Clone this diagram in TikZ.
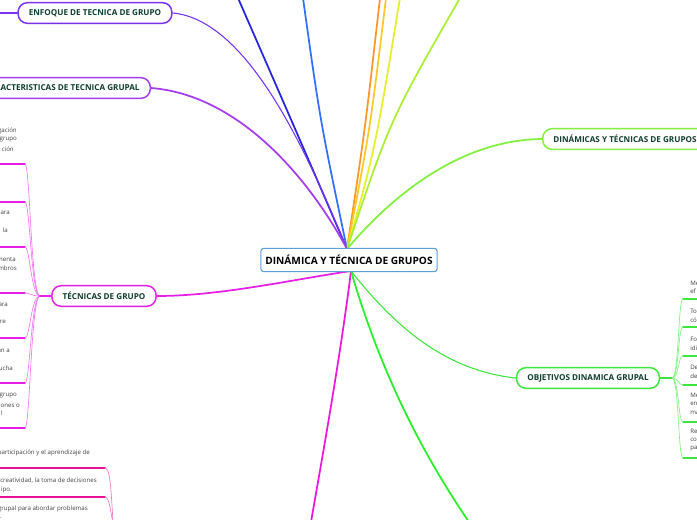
\documentclass[tikz,border=0pt]{standalone}
\usepackage{fontspec}
\setmainfont{Open Sans}
\definecolor{cdb}{RGB}{35,35,225}
\definecolor{cbl}{RGB}{50,110,255}
\definecolor{cor}{RGB}{255,150,40}
\definecolor{cgo}{RGB}{255,200,40}
\definecolor{cye}{RGB}{230,240,40}
\definecolor{cyg}{RGB}{170,240,50}
\definecolor{cenf}{RGB}{120,50,240}
\definecolor{ccar}{RGB}{165,60,240}
\definecolor{ctec}{RGB}{230,30,230}
\definecolor{ctecl}{RGB}{240,120,240}
\definecolor{cdyt}{RGB}{130,240,60}
\definecolor{cobj}{RGB}{60,230,60}
\definecolor{cobjl}{RGB}{130,240,130}
\definecolor{cmag}{RGB}{240,20,220}
\definecolor{cgr}{RGB}{40,240,40}
\definecolor{cpk}{RGB}{232,16,150}
\definecolor{cpkl}{RGB}{240,120,200}
\definecolor{cbox}{RGB}{90,160,220}
\definecolor{ctxt}{RGB}{15,60,45}
\begin{document}
\begin{tikzpicture}[x=0.75pt,y=-0.75pt,line cap=round,
  topic/.style={draw=#1,line width=1.1pt,rounded corners=7pt,fill=white,inner xsep=8pt,minimum height=15.5pt,font=\bfseries\fontsize{6.1}{6.5}\selectfont,text=ctxt},
  conn/.style={draw=#1,line width=1.3pt},
  thin/.style={draw=#1,line width=0.8pt},
  frag/.style={font=\fontsize{4.6}{5}\selectfont,text=black!75,inner sep=0pt}]
\useasboundingbox (0,0) rectangle (697,520);
\begin{scope}
\clip (0,0) rectangle (697,520);
\coordinate (ct) at (347,249);
\coordinate (cb) at (351,271);
\coordinate (t1) at (238,-2);
\coordinate (t2) at (303,-2);
\coordinate (t3) at (380,-2);
\coordinate (t4) at (386,-2);
\coordinate (t5) at (400,-2);
\coordinate (t6) at (460,-2);
\draw[conn=cdb] (ct) .. controls (300,140) .. (t1);
\draw[conn=cbl] (ct) .. controls (320,120) .. (t2);
\draw[conn=cor] (ct) .. controls (365,130) .. (t3);
\draw[conn=cgo] (ct) .. controls (370,130) .. (t4);
\draw[conn=cye] (ct) .. controls (375,150) .. (t5);
\draw[conn=cyg] (ct) .. controls (390,120) .. (t6);
\node[topic=cenf] (enf) at (95,13) {ENFOQUE DE TECNICA DE GRUPO};
\node[topic=ccar,anchor=east] (car) at (151,88) {CARACTERISTICAS DE TECNICA GRUPAL};
\node[topic=ctec] (tec) at (104,296) {TÉCNICAS DE GRUPO};
\node[topic=cdyt,anchor=west] (dyt) at (542,139) {DINÁMICAS Y TÉCNICAS DE GRUPOS};
\node[topic=cobj] (obj) at (588,378) {OBJETIVOS DINAMICA GRUPAL};
\coordinate (enfl) at (-2,13);
\draw[thin=cenf] (enfl) -- (enf.west);
\draw[thin=cenf] (enf.east) .. controls (250,20) and (310,160) .. (ct);
\draw[conn=ccar] (car.east) .. controls (240,95) and (310,180) .. (ct);
\draw[conn=ctec] (tec.east) .. controls (220,296) and (290,280) .. (cb);
\draw[conn=cdyt] (dyt.west) .. controls (450,140) and (380,210) .. (ct);
\draw[thin=cobj] (obj.west) .. controls (440,370) and (390,320) .. (cb);
\coordinate (b1) at (311,522);
\coordinate (b2) at (469,522);
\draw[conn=cmag] (cb) .. controls (340,360) and (320,470) .. (b1);
\draw[conn=cgr] (cb) .. controls (380,370) and (420,450) .. (b2);
\node[draw=cbox,line width=0.8pt,rounded corners=2pt,fill=white,minimum width=130pt,minimum height=17.5pt,font=\bfseries\fontsize{7.6}{8}\selectfont] (c) at (349,260) {DINÁMICA Y TÉCNICA DE GRUPOS};
\coordinate (tj) at (40,296);
\foreach \y in {164,202,247,293,338,383,428}{
  \draw[line width=1.2pt,draw=ctec] (-2,\y) -- (25,\y);
  \draw[line width=0.5pt,draw=ctecl] (25,\y) .. controls (30,\y) and (31,296) .. (tj);
}
\draw[line width=1.2pt,draw=ctec] (tj) -- (tec.west);
\node[frag,anchor=east] (f1) at (17,131) {gación};
\node[frag,anchor=east] (f2) at (17,140) {grupo};
\node[frag,anchor=east] (f3) at (14,149) {ción};
\node[frag,anchor=east] (f4) at (10,213) {ara};
\node[frag,anchor=east] (f5) at (8,230) {la};
\node[frag,anchor=east] (f6) at (16,260) {menta};
\node[frag,anchor=east] (f7) at (17,268) {mbros};
\node[frag,anchor=east] (f8) at (8,305) {ara};
\node[frag,anchor=east] (f9) at (6,322) {re};
\node[frag,anchor=east] (f10) at (10,351) {an a};
\node[frag,anchor=east] (f11) at (13,368) {ucha};
\node[frag,anchor=east] (f12) at (17,396) {grupo};
\node[frag,anchor=east] (f13) at (20,405) {ciones o};
\node[frag,anchor=east] (f14) at (3,413) {l};
\foreach \y in {468,497}{
  \draw[line width=1.2pt,draw=cpk] (-2,\y) -- (105,\y);
  \draw[line width=0.5pt,draw=cpkl] (105,\y) .. controls (110,\y) and (111,\y+20) .. (113,522);
}
\node[frag,anchor=east] (g1) at (90,453) {participación y el aprendizaje de};
\node[frag,anchor=east] (g2) at (97,481) {a creatividad, la toma de decisiones};
\node[frag,anchor=east] (g3) at (12,490) {ipo.};
\node[frag,anchor=east] (g4) at (88,509) {grupal para abordar problemas};
\node[frag,anchor=east] (g5) at (2,518) {.};
\coordinate (oj) at (672,378);
\draw[line width=1.2pt,draw=cobj] (obj.east) -- (oj);
\foreach \y in {299,327,356,385,422,458}{
  \draw[line width=1.2pt,draw=cobj] (683,\y) -- (699,\y);
  \draw[line width=0.5pt,draw=cobjl] (683,\y) .. controls (678,\y) and (679,378) .. (oj);
}
\node[frag,anchor=west] (h1) at (690,283) {Me};
\node[frag,anchor=west] (h2) at (690,291) {ef};
\node[frag,anchor=west] (h3) at (690,311) {To};
\node[frag,anchor=west] (h4) at (690,320) {có};
\node[frag,anchor=west] (h5) at (690,339) {Fo};
\node[frag,anchor=west] (h6) at (690,348) {idi};
\node[frag,anchor=west] (h7) at (690,367) {De};
\node[frag,anchor=west] (h8) at (690,376) {de};
\node[frag,anchor=west] (h9) at (690,395) {Me};
\node[frag,anchor=west] (h10) at (690,404) {en};
\node[frag,anchor=west] (h11) at (690,413) {ma};
\node[frag,anchor=west] (h12) at (690,431) {Re};
\node[frag,anchor=west] (h13) at (690,440) {co};
\node[frag,anchor=west] (h14) at (690,449) {pa};
\end{scope}
\end{tikzpicture}
\end{document}
